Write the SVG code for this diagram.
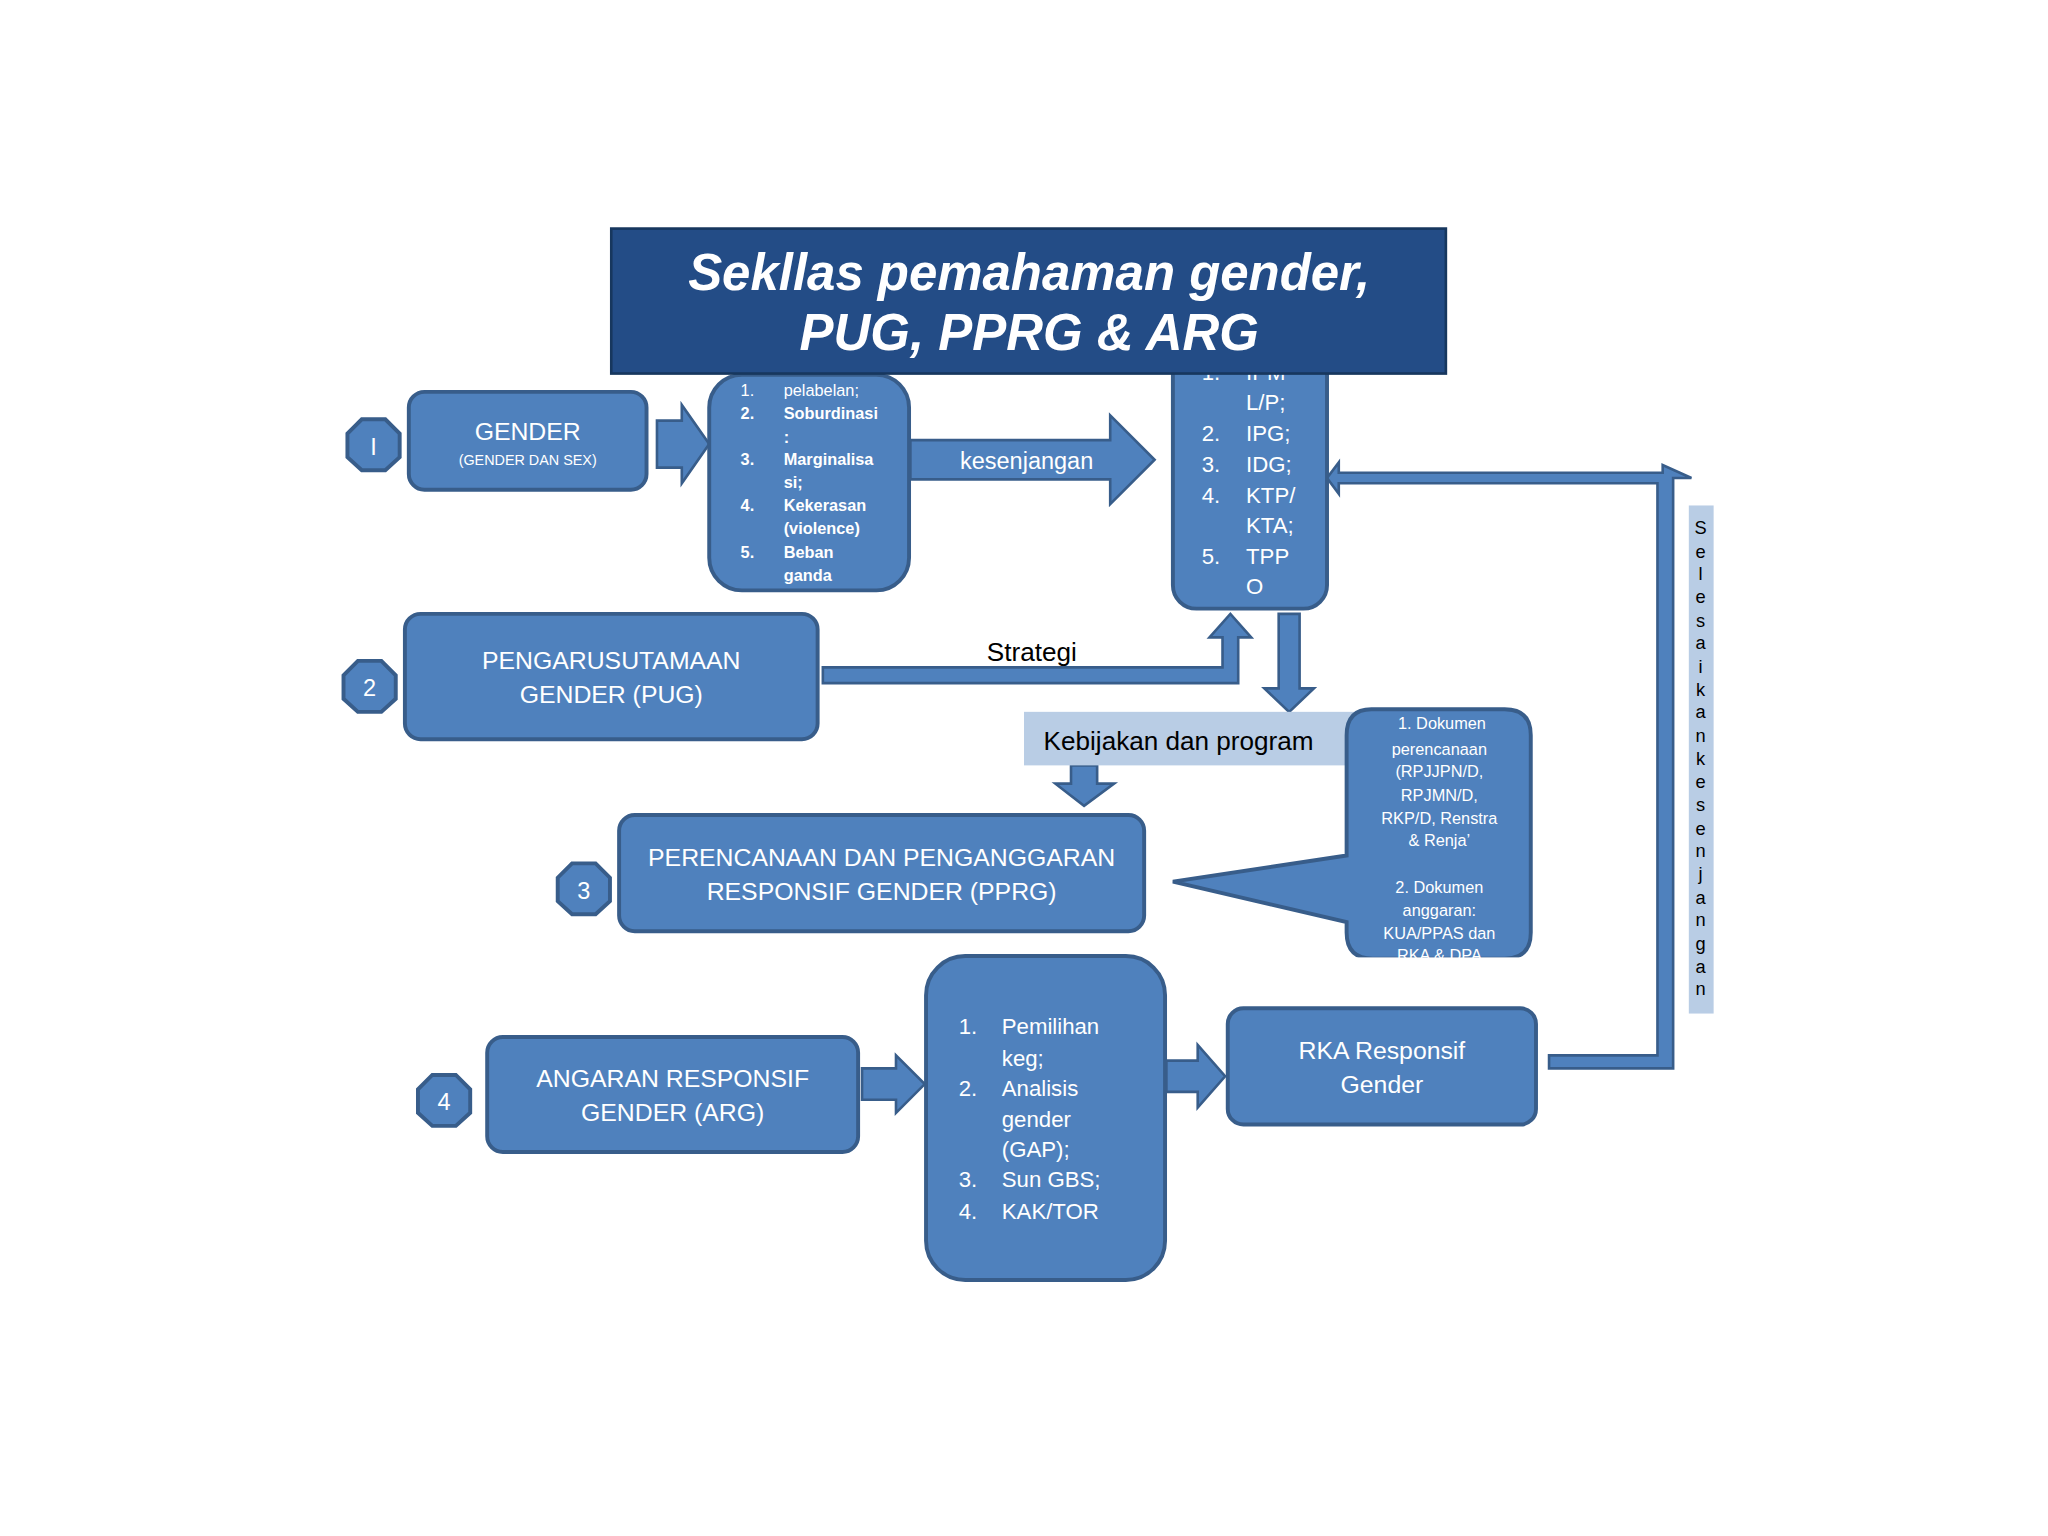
<svg xmlns="http://www.w3.org/2000/svg" width="2048" height="1536" viewBox="0 0 2048 1536">
<style>
.b{fill:#4F81BD;stroke:#385D8A;stroke-width:3}
.t{font-family:"Liberation Sans",Arial,sans-serif;fill:#fff}
.k{font-family:"Liberation Sans",Arial,sans-serif;fill:#000}
.c{text-anchor:middle}
.conn{fill:#4F81BD;stroke:#385D8A;stroke-width:2}
</style>
<rect width="2048" height="1536" fill="#fff"/>
<g transform="scale(1.30612)">
<g id="badges">
<polygon class="b" points="277,321 295,321 306,332 306,350 295,360 277,360 266,350 266,332"/>
<text class="t c" x="286" y="348" font-size="18">I</text>
<polygon class="b" points="274,506 292,506 303,517 303,535 292,545 274,545 263,535 263,517"/>
<text class="t c" x="283" y="533" font-size="18">2</text>
<polygon class="b" points="438,661 456,661 467,672 467,690 456,700 438,700 427,690 427,672"/>
<text class="t c" x="447" y="688" font-size="18">3</text>
<polygon class="b" points="331,823 349,823 360,834 360,852 349,862 331,862 320,852 320,834"/>
<text class="t c" x="340" y="850" font-size="18">4</text>
</g>
<g id="connectors">
<polygon class="conn" points="503,322 522,322 522,310 543,340 522,370 522,358 503,358"/>
<polygon class="conn" points="697,337 850,337 850,318 884,352 850,386 850,367 697,367"/>
<text class="t c" x="786" y="359" font-size="18">kesenjangan</text>
<polygon class="conn" points="630,511 936,511 936,488 926,488 942,470 958,488 948,488 948,523 630,523"/>
<text class="k c" x="790" y="506" font-size="20">Strategi</text>
<polygon class="conn" points="979,470 995,470 995,527 1006,527 987,545 968,527 979,527"/>
<polygon class="conn" points="820,586 840,586 840,600 853,600 830,617 808,600 820,600"/>
<polygon class="conn" points="1186,808 1269,808 1269,370 1025,370 1025,378 1016,366 1025,354 1025,362 1273,362 1273,356 1295,366 1281,366 1281,818 1186,818"/>
<polygon class="conn" points="660,818 686,818 686,808 708,830 686,852 686,842 660,842"/>
<polygon class="conn" points="893,812 917,812 917,800 938,824 917,848 917,836 893,836"/>
</g>
<g id="gender"><rect class="b" x="313" y="300" width="182" height="75" rx="12"/>
<text class="t c" x="404" y="337" font-size="19">GENDER</text>
<text class="t c" x="404" y="356" font-size="11">(GENDER DAN  SEX)</text></g>
<g id="pelabelan"><rect class="b" x="543" y="287" width="153" height="165" rx="25"/>
<g class="t" font-size="12.5">
<text x="567" y="303">1.</text><text x="600" y="303">pelabelan;</text>
<g font-weight="bold">
<text x="567" y="321">2.</text><text x="600" y="321">Soburdinasi</text><text x="600" y="339">:</text>
<text x="567" y="356">3.</text><text x="600" y="356">Marginalisa</text><text x="600" y="374">si;</text>
<text x="567" y="391">4.</text><text x="600" y="391">Kekerasan</text><text x="600" y="409">(violence)</text>
<text x="567" y="427">5.</text><text x="600" y="427">Beban</text><text x="600" y="445">ganda</text></g></g></g>
<g id="indikator"><rect class="b" x="898" y="262" width="118" height="204" rx="18"/>
<g class="t" font-size="17">
<text x="920" y="291">1.</text><text x="954" y="291">IPM</text><text x="954" y="314">L/P;</text>
<text x="920" y="338">2.</text><text x="954" y="338">IPG;</text>
<text x="920" y="361">3.</text><text x="954" y="361">IDG;</text>
<text x="920" y="385">4.</text><text x="954" y="385">KTP/</text><text x="954" y="408">KTA;</text>
<text x="920" y="432">5.</text><text x="954" y="432">TPP</text><text x="954" y="455">O</text></g></g>
<g id="title"><rect x="468" y="175" width="639" height="111" fill="#234C86" stroke="#17375E" stroke-width="2"/>
<text class="t c" x="788" y="222" font-size="39" font-weight="bold" font-style="italic">Sekllas pemahaman gender,</text>
<text class="t c" x="788" y="268" font-size="39" font-weight="bold" font-style="italic">PUG, PPRG &amp; ARG</text></g>
<g id="pug"><rect class="b" x="310" y="470" width="316" height="96" rx="12"/>
<text class="t c" x="468" y="512" font-size="19">PENGARUSUTAMAAN</text>
<text class="t c" x="468" y="538" font-size="19">GENDER (PUG)</text></g>
<g id="kebijakan"><rect x="784" y="545" width="256" height="41" fill="#B9CDE5"/>
<text class="k" x="799" y="574" font-size="20">Kebijakan dan program</text></g>
<g id="dokumen"><path class="b" d="M1050,543 H1152 Q1172,543 1172,563 V714 Q1172,734 1152,734 H1051 Q1031,734 1031,714 V706 L898,675 L1031,655 V563 Q1031,543 1050,543 Z"/>
<g class="t c" font-size="12.5">
<text x="1104" y="558">1. Dokumen</text><text x="1102" y="578">perencanaan</text><text x="1102" y="595">(RPJJPN/D,</text><text x="1102" y="613">RPJMN/D,</text><text x="1102" y="631">RKP/D, Renstra</text><text x="1102" y="648">&amp; Renja’</text>
<text x="1102" y="684">2. Dokumen</text><text x="1102" y="701">anggaran:</text><text x="1102" y="719">KUA/PPAS dan</text><text x="1102" y="736">RKA &amp; DPA</text></g>
<rect x="1025" y="733" width="150" height="10" fill="#fff"/></g>
<g id="pprg"><rect class="b" x="474" y="624" width="402" height="89" rx="12"/>
<text class="t c" x="675" y="663" font-size="19">PERENCANAAN DAN PENGANGGARAN</text>
<text class="t c" x="675" y="689" font-size="19">RESPONSIF GENDER (PPRG)</text></g>
<g id="arg"><rect class="b" x="373" y="794" width="284" height="88" rx="12"/>
<text class="t c" x="515" y="832" font-size="19">ANGARAN RESPONSIF</text>
<text class="t c" x="515" y="858" font-size="19">GENDER (ARG)</text></g>
<g id="langkah"><rect class="b" x="709" y="732" width="183" height="248" rx="30"/>
<g class="t" font-size="17">
<text x="734" y="792">1.</text><text x="767" y="792">Pemilihan</text><text x="767" y="816">keg;</text>
<text x="734" y="839">2.</text><text x="767" y="839">Analisis</text><text x="767" y="863">gender</text><text x="767" y="886">(GAP);</text>
<text x="734" y="909">3.</text><text x="767" y="909">Sun GBS;</text>
<text x="734" y="933">4.</text><text x="767" y="933">KAK/TOR</text></g></g>
<g id="rka"><rect class="b" x="940" y="772" width="236" height="89" rx="12"/>
<text class="t c" x="1058" y="811" font-size="19">RKA Responsif</text>
<text class="t c" x="1058" y="837" font-size="19">Gender</text></g>
<g id="selesaikan"><rect x="1293" y="387" width="19" height="389" fill="#B9CDE5"/>
<g class="k c" font-size="14">
<text x="1302" y="409">S</text><text x="1302" y="427">e</text><text x="1302" y="444">l</text><text x="1302" y="462">e</text><text x="1302" y="480">s</text><text x="1302" y="497">a</text><text x="1302" y="515">i</text><text x="1302" y="533">k</text><text x="1302" y="550">a</text><text x="1302" y="568">n</text><text x="1302" y="586">k</text><text x="1302" y="603">e</text><text x="1302" y="621">s</text><text x="1302" y="639">e</text><text x="1302" y="656">n</text><text x="1302" y="674">j</text><text x="1302" y="692">a</text><text x="1302" y="709">n</text><text x="1302" y="727">g</text><text x="1302" y="745">a</text><text x="1302" y="762">n</text></g></g>
</g>
</svg>
